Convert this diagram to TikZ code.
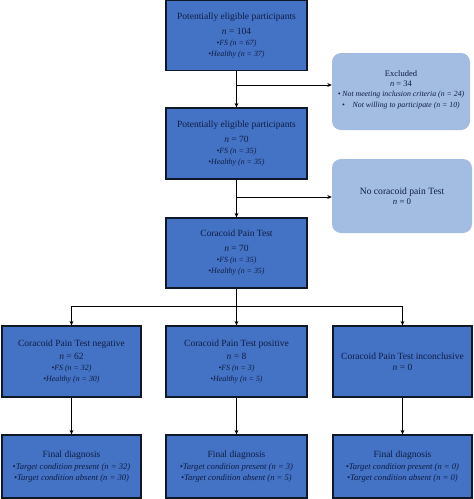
\documentclass[tikz,border=0pt]{standalone}
\usepackage{fontspec}
\setmainfont{Liberation Serif}
\usetikzlibrary{arrows.meta}
\definecolor{boxblue}{HTML}{4472C4}
\definecolor{lightblue}{HTML}{A3BCE2}
\definecolor{txtcol}{HTML}{0F1E44}
\definecolor{edgecol}{HTML}{101828}
\newcommand\fbig{\fontsize{9.5}{11}\selectfont}
\newcommand\fsmall{\fontsize{7.9}{11}\selectfont\itshape}
\newcommand\fmid{\fontsize{8.6}{13}\selectfont\itshape}
\begin{document}
\begin{tikzpicture}[x=1pt,y=1pt,
  dbox/.style={draw=edgecol, line width=1.3pt, fill=boxblue, text=txtcol, align=center, inner sep=0pt,
    font=\fontsize{7.9}{11}\selectfont},
  lbox/.style={fill=lightblue, rounded corners=9pt, text=txtcol, align=center, inner sep=0pt,
    font=\fontsize{7.8}{10.3}\selectfont},
  arr/.style={-{Stealth[length=4.5pt,width=4pt]}, line width=0.8pt, draw=black},
  ln/.style={line width=0.8pt, draw=black}]
\useasboundingbox (0,0) rectangle (474,-499);

% main column
\node[dbox, minimum width=141pt, minimum height=70pt] (a) at (236.5,-35.5)
  {{\fbig Potentially eligible participants}\\[4pt]
   {\fbig \textit{n} = 104}\\
   {\fsmall •FS (n = 67)}\\
   {\fsmall •Healthy (n = 37)}};
\node[dbox, minimum width=141pt, minimum height=71pt] (b) at (236.5,-143.5)
  {{\fbig Potentially eligible participants}\\[4pt]
   {\fbig \textit{n} = 70}\\
   {\fsmall •FS (n = 35)}\\
   {\fsmall •Healthy (n = 35)}};
\node[dbox, minimum width=141pt, minimum height=70pt] (c) at (236.5,-253)
  {{\fbig Coracoid Pain Test}\\[4pt]
   {\fbig \textit{n} = 70}\\
   {\fsmall •FS (n = 35)}\\
   {\fsmall •Healthy (n = 35)}};

% side boxes
\node[lbox, minimum width=138pt, minimum height=77pt] (ex) at (401,-91.5) {};
\node[text=txtcol, align=center, inner sep=0pt, font=\fontsize{7.8}{10.3}\selectfont] (extext) at (401,-89.5)
  {{\fontsize{8.5}{10.3}\selectfont Excluded}\\
   {\fontsize{8.5}{10.3}\selectfont \textit{n} = 34}\\
   {\itshape • Not meeting inclusion criteria (n = 24)}\\
   {\itshape •\quad Not willing to participate (n = 10)}};
\node[lbox, minimum width=140pt, minimum height=74pt] (nc) at (402,-196)
  {{\fontsize{9.6}{13}\selectfont No coracoid pain Test}\\
   {\fontsize{8.8}{11}\selectfont \textit{n} = 0}};

% test result boxes
\node[dbox, minimum width=139pt, minimum height=71pt] (neg) at (71.5,-361.5)
  {{\fbig Coracoid Pain Test negative}\\[2pt]
   {\fbig \textit{n} = 62}\\
   {\fsmall •FS (n = 32)}\\
   {\fsmall •Healthy (n = 30)}};
\node[dbox, minimum width=141pt, minimum height=71pt] (pos) at (236.5,-361.5)
  {{\fbig Coracoid Pain Test positive}\\[2pt]
   {\fbig \textit{n} = 8}\\
   {\fsmall •FS (n = 3)}\\
   {\fsmall •Healthy (n = 5)}};
\node[dbox, minimum width=139pt, minimum height=71pt] (inc) at (402.5,-361.5)
  {{\fontsize{9.5}{13}\selectfont Coracoid Pain Test inconclusive}\\
   {\fbig \textit{n} = 0}};

% final diagnosis boxes
\node[dbox, minimum width=139pt, minimum height=63pt] (fneg) at (71.5,-466.5)
  {{\fbig Final diagnosis}\\[1pt]
   {\fmid •Target condition present (n = 32)}\\
   {\fmid •Target condition absent (n = 30)}};
\node[dbox, minimum width=141pt, minimum height=63pt] (fpos) at (236.5,-466.5)
  {{\fbig Final diagnosis}\\[1pt]
   {\fmid •Target condition present (n = 3)}\\
   {\fmid •Target condition absent (n = 5)}};
\node[dbox, minimum width=139pt, minimum height=63pt] (finc) at (402.5,-466.5)
  {{\fbig Final diagnosis}\\[1pt]
   {\fmid •Target condition present (n = 0)}\\
   {\fmid •Target condition absent (n = 0)}};

% connectors
\coordinate (j1) at (a.south |- 0,-85);
\coordinate (j2) at (b.south |- 0,-197);
\coordinate (j3) at (c.south |- 0,-306);
\draw[arr] (a.south) -- (b.north);
\draw[arr] (j1) -- (j1 -| ex.west);
\draw[arr] (b.south) -- (c.north);
\draw[arr] (j2) -- (j2 -| nc.west);
\draw[ln] (c.south) -- (j3);
\draw[ln] (j3 -| neg.north) -- (j3 -| inc.north);
\draw[arr] (j3 -| neg.north) -- (neg.north);
\draw[arr] (j3) -- (pos.north);
\draw[arr] (j3 -| inc.north) -- (inc.north);
\draw[arr] (neg.south) -- (fneg.north);
\draw[arr] (pos.south) -- (fpos.north);
\draw[arr] (inc.south) -- (finc.north);
\end{tikzpicture}
\end{document}
